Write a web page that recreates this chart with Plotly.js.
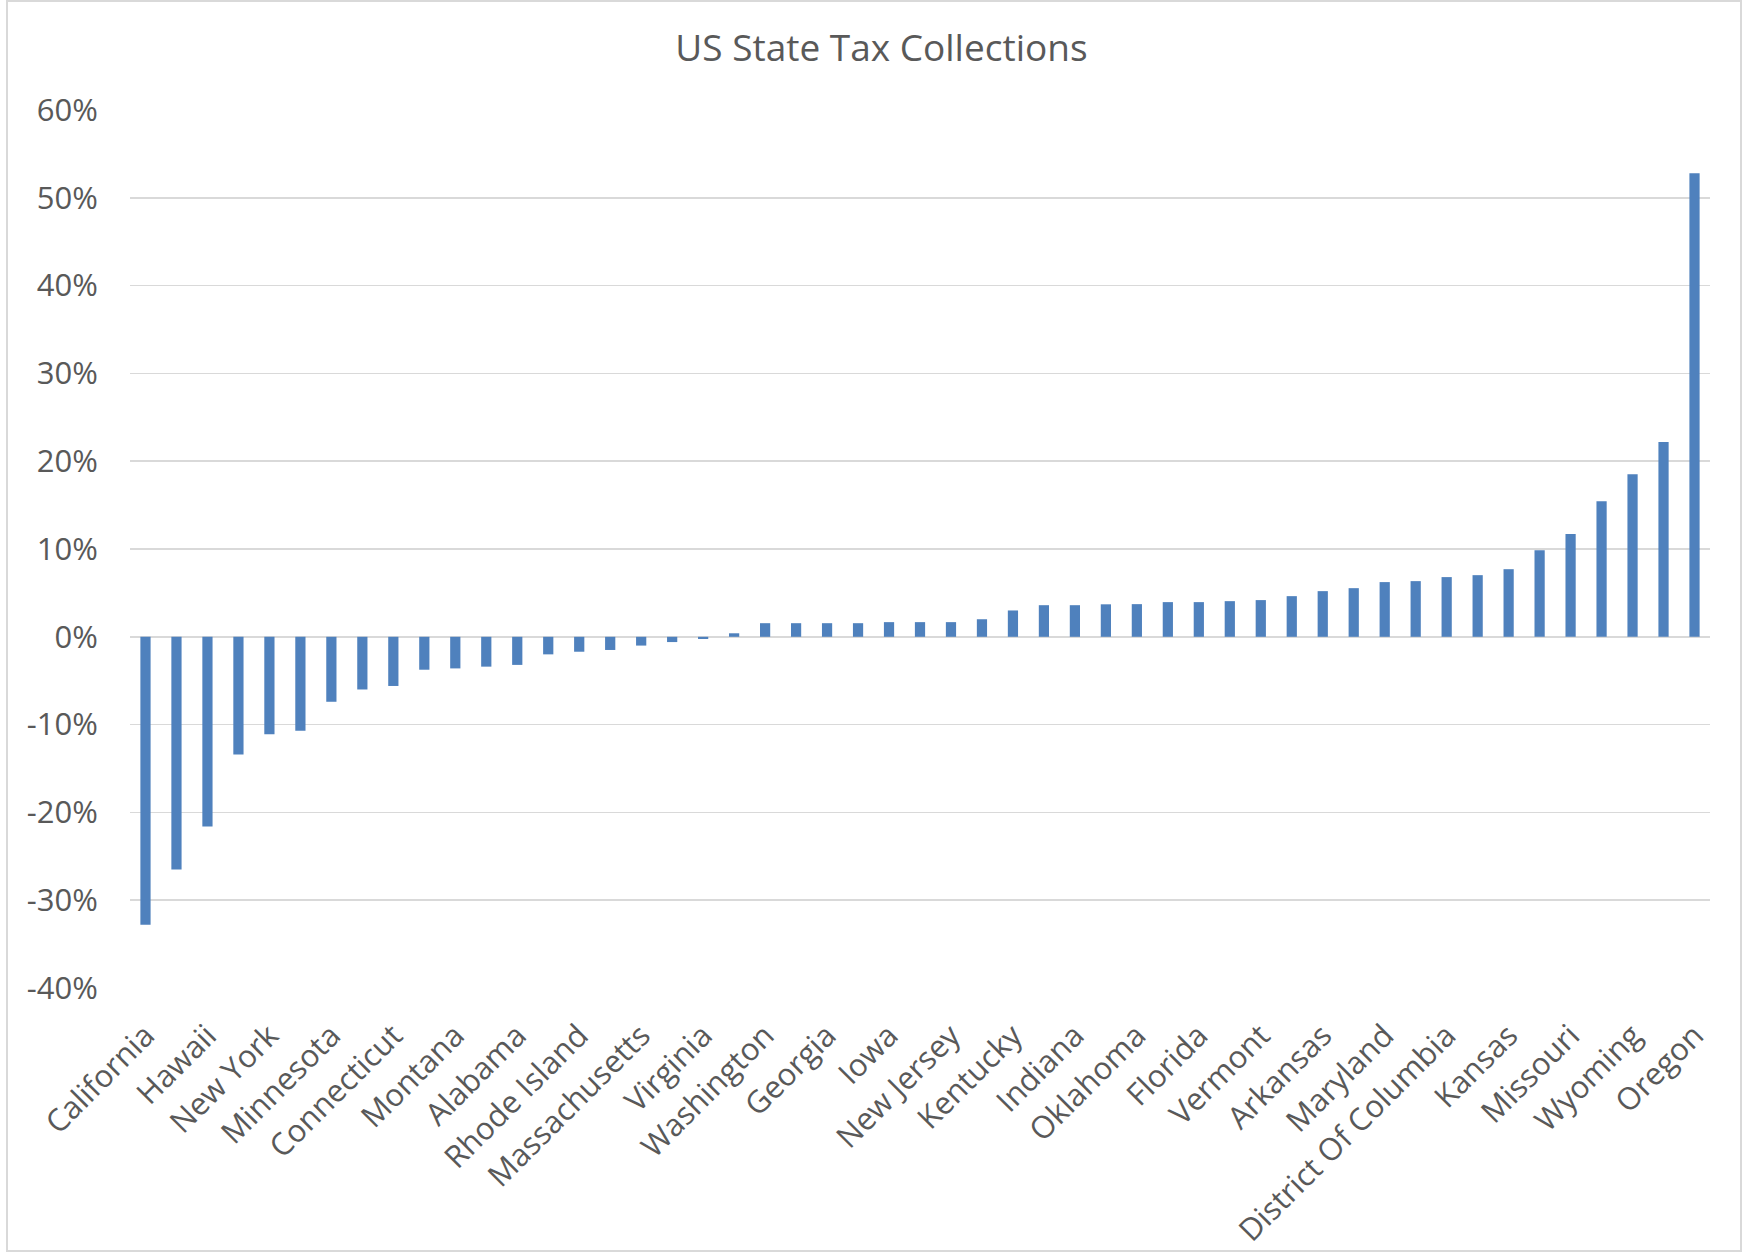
<!DOCTYPE html>
<html>
<head>
<meta charset="utf-8">
<script src="https://cdn.plot.ly/plotly-3.0.1.min.js"></script>
<style>
  html, body { margin: 0; padding: 0; background: #fff; }
  #wrap { position: relative; width: 1742px; height: 1252px; }
  #chart { position: absolute; left: 0; top: 0; width: 1742px; height: 1252px; }
  #frame { position: absolute; left: 6px; top: 0px; width: 1732px; height: 1248px; border: 2px solid #d9d9d9; pointer-events: none; }
</style>
</head>
<body>
<div id="wrap">
  <div id="chart"></div>
  <div id="frame"></div>
</div>
<script>
const states = ['California','Alaska','Hawaii','Nevada','New York','Texas','Minnesota','North Dakota','Connecticut','Louisiana',
  'Montana','New Mexico','Alabama','Pennsylvania','Rhode Island','Illinois','Massachusetts','Colorado','Virginia','Michigan',
  'Washington','Ohio','Georgia','Tennessee','Iowa','Wisconsin','New Jersey','North Carolina','Kentucky','South Carolina',
  'Indiana','Nebraska','Oklahoma','Maine','Florida','Delaware','Vermont','West Virginia','Arkansas','New Hampshire',
  'Maryland','Mississippi','District Of Columbia','Utah','Kansas','South Dakota','Missouri','Arizona','Wyoming','Idaho','Oregon'];

const changePct = [-32.8,-26.5,-21.6,-13.4,-11.1,-10.7,-7.4,-6.0,-5.6,-3.75,
  -3.6,-3.4,-3.2,-2.0,-1.7,-1.5,-1.0,-0.6,-0.25,0.4,
  1.55,1.55,1.55,1.55,1.67,1.67,1.67,2.0,3.0,3.6,
  3.6,3.7,3.72,3.95,3.95,4.06,4.18,4.63,5.2,5.54,
  6.23,6.34,6.8,7.02,7.7,9.87,11.7,15.45,18.5,22.2,52.8];

const xTickLabels = ['California','Hawaii','New York','Minnesota','Connecticut','Montana','Alabama','Rhode Island',
  'Massachusetts','Virginia','Washington','Georgia','Iowa','New Jersey','Kentucky','Indiana','Oklahoma','Florida',
  'Vermont','Arkansas','Maryland','District Of Columbia','Kansas','Missouri','Wyoming','Oregon'];

const yTickVals = [-40,-30,-20,-10,0,10,20,30,40,50,60];
const yTickText = ['-40%','-30%','-20%','-10%','0%','10%','20%','30%','40%','50%','60%'];

const FONT = '"Open Sans", "Noto Sans", sans-serif';
const TXT = '#595959';

const trace = {
  type: 'bar',
  x: states,
  y: changePct,
  marker: { color: '#4F81BD' },
  hoverinfo: 'x+y'
};

const layout = {
  width: 1742,
  height: 1252,
  margin: { l: 130, r: 32, t: 110, b: 264 },
  paper_bgcolor: '#ffffff',
  plot_bgcolor: '#ffffff',
  bargap: 0.67,
  showlegend: false,
  title: {
    text: 'US State Tax Collections',
    font: { family: FONT, size: 37, color: TXT },
    xref: 'container', x: 0.506, xanchor: 'center',
    yref: 'container', y: 0.962, yanchor: 'middle'
  },
  xaxis: {
    type: 'category',
    categoryorder: 'array',
    categoryarray: states,
    range: [-0.5, 50.5],
    tickmode: 'array',
    tickvals: xTickLabels,
    ticktext: xTickLabels,
    tickangle: -45,
    tickfont: { family: FONT, size: 31, color: TXT },
    ticks: 'outside', ticklen: 16, tickcolor: 'rgba(0,0,0,0)',
    showgrid: false, showline: false, zeroline: false
  },
  yaxis: {
    range: [-40, 60],
    tickmode: 'array',
    tickvals: yTickVals,
    ticktext: yTickText,
    tickfont: { family: FONT, size: 31, color: TXT },
    ticks: 'outside', ticklen: 25, tickcolor: 'rgba(0,0,0,0)',
    showgrid: true, gridcolor: '#d9d9d9', gridwidth: 1.5,
    zeroline: false, showline: false
  }
};

Plotly.newPlot('chart', [trace], layout, { displayModeBar: false, staticPlot: true });
</script>
</body>
</html>
